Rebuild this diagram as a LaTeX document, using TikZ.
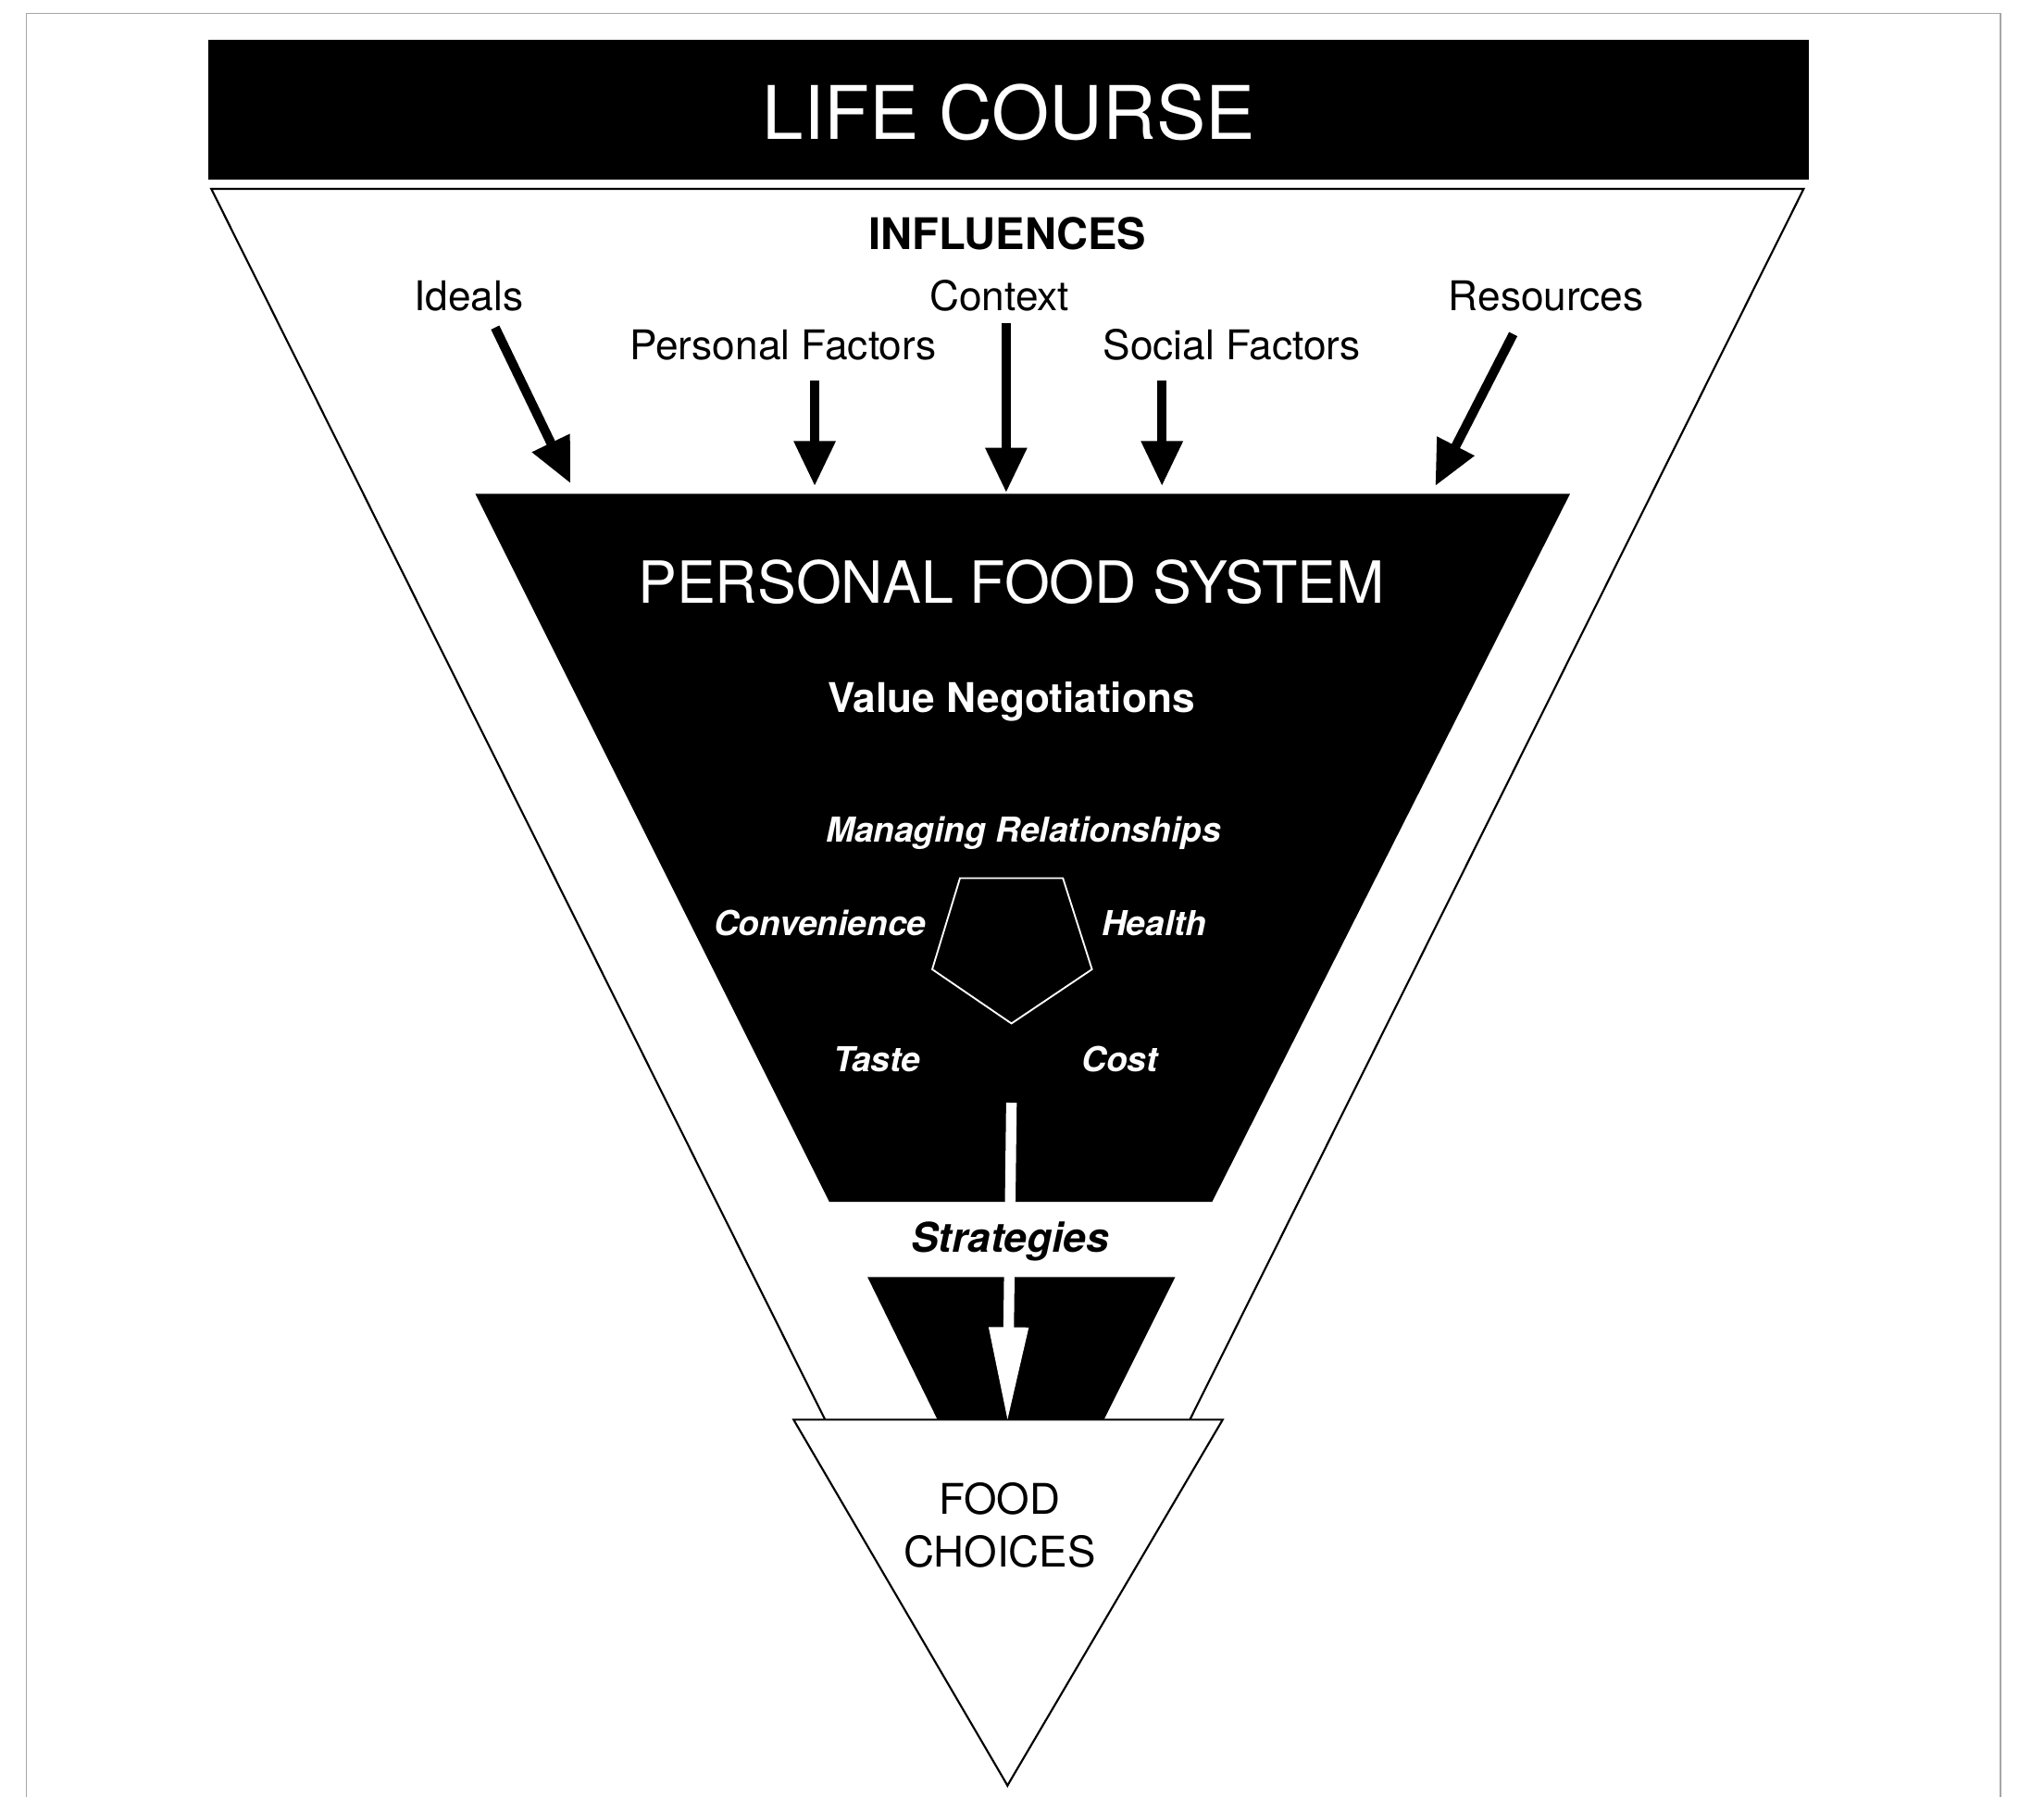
\documentclass[tikz,border=0pt]{standalone}
\usepackage{fontspec}
\setmainfont{TeX Gyre Heros}
\usetikzlibrary{arrows.meta}
\begin{document}
\begin{tikzpicture}[x=1pt,y=-1pt,
  lab/.style={font=\fontsize{31}{34}\selectfont},
  wlab/.style={text=white,font=\fontsize{26}{30}\selectfont\itshape\bfseries},
  infl/.style={line width=7pt,-{Triangle[length=34pt,width=30pt]}}]
\useasboundingbox (0,0) rectangle (1548,1361);
\fill[white] (0,0) rectangle (1548,1361);
\draw[gray!70,line width=1pt] (20,1361) -- (20,10) -- (1515,10) -- (1515,1361);
% life course bar
\fill[black] (158,30) rectangle (1370,136);
\node[text=white,font=\fontsize{56}{60}\selectfont] (lc) at (764,85) {LIFE COURSE};
% big triangle
\draw[line width=1.5pt] (160,143) -- (1366,143) -- (763,1352) -- cycle;
% personal food system trapezoid
\fill[black] (360,374) -- (1189,374) -- (918,910) -- (628,910) -- cycle;
\fill[black] (657,967) -- (890,967) -- (836,1075) -- (710,1075) -- cycle;
% food choices triangle
\draw[line width=1.5pt,fill=white] (601,1075) -- (926,1075) -- (763,1352) -- cycle;
% texts
\node[font=\fontsize{33}{36}\selectfont\bfseries] (infl) at (763,177) {INFLUENCES};
\node[lab] (ideals) at (355,224) {Ideals};
\node[lab] (context) at (757,224) {Context};
\node[lab] (res) at (1171,224) {Resources};
\node[lab] (pers) at (593,261) {Personal Factors};
\node[lab] (soc) at (933,261) {Social Factors};
\coordinate (i1) at (375,248); \coordinate (i2) at (432,366);
\coordinate (p1) at (617,288); \coordinate (p2) at (617,368);
\coordinate (c1) at (762,245); \coordinate (c2) at (762,373);
\coordinate (s1) at (880,288); \coordinate (s2) at (880,368);
\coordinate (r1) at (1146,253); \coordinate (r2) at (1087,368);
\draw[infl] (i1) -- (i2);
\draw[infl] (p1) -- (p2);
\draw[infl] (c1) -- (c2);
\draw[infl] (s1) -- (s2);
\draw[infl] (r1) -- (r2);
\node[text=white,font=\fontsize{44}{48}\selectfont] (pfs) at (766,441) {PERSONAL FOOD SYSTEM};
\node[text=white,font=\fontsize{31}{34}\selectfont\bfseries] (vn) at (766,531) {Value Negotiations};
\node[wlab] (mr) at (775,631) {Managing Relationships};
\node[wlab] (conv) at (621,699) {Convenience};
\node[wlab] (health) at (874,699) {Health};
\node[wlab] (taste) at (664,802) {Taste};
\node[wlab] (cost) at (848,802) {Cost};
\draw[white,line width=1.3pt] (727,665) -- (805,665) -- (827,734) -- (766,775) -- (706,734) -- cycle;
% white arrow
\coordinate (wa1) at (766,835); \coordinate (wa2) at (763,1077);
\draw[white,line width=8pt,-{Triangle[length=72pt,width=28pt]}] (wa1) -- (wa2);
\node[fill=white,inner sep=3pt,font=\fontsize{31}{34}\selectfont\itshape\bfseries] (strat) at (765,940) {Strategies};
\node[font=\fontsize{32}{40}\selectfont,align=center] (fc) at (757,1155) {FOOD\\CHOICES};
\end{tikzpicture}
\end{document}
